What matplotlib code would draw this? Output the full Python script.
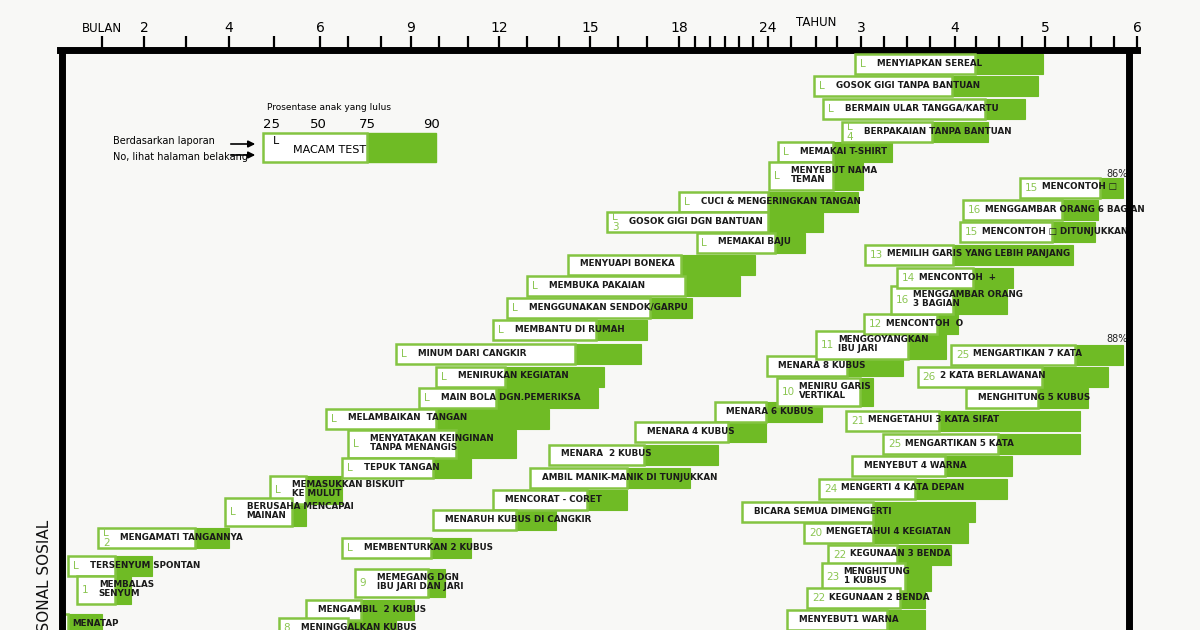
import numpy as np
import matplotlib
matplotlib.use("Agg")
import matplotlib.pyplot as plt

# ---------------- data (ages in months) ----------------
labels = [
    "MENYIAPKAN SEREAL", "GOSOK GIGI TANPA BANTUAN", "BERMAIN ULAR TANGGA/KARTU",
    "BERPAKAIAN TANPA BANTUAN", "MEMAKAI T-SHIRT", "MENYEBUT NAMA\nTEMAN",
    "CUCI & MENGERINGKAN TANGAN", "GOSOK GIGI DGN BANTUAN", "MEMAKAI BAJU",
    "MENYUAPI BONEKA", "MEMBUKA PAKAIAN", "MENGGUNAKAN SENDOK/GARPU",
    "MEMBANTU DI RUMAH", "MINUM DARI CANGKIR", "MENIRUKAN KEGIATAN",
    "MAIN BOLA DGN.PEMERIKSA", "MELAMBAIKAN  TANGAN", "MENYATAKAN KEINGINAN\nTANPA MENANGIS",
    "TEPUK TANGAN", "MEMASUKKAN BISKUIT\nKE MULUT", "BERUSAHA MENCAPAI\nMAINAN",
    "MENGAMATI TANGANNYA", "TERSENYUM SPONTAN", "MEMBALAS\nSENYUM", "MENATAP",
    "MENARA 8 KUBUS", "MENGGOYANGKAN\nIBU JARI", "MENCONTOH  O", "MENGGAMBAR ORANG\n3 BAGIAN",
    "MENCONTOH  +", "MEMILIH GARIS YANG LEBIH PANJANG", "MENCONTOH \u25a1 DITUNJUKKAN",
    "MENGGAMBAR ORANG 6 BAGIAN", "MENCONTOH \u25a1", "MENIRU GARIS\nVERTIKAL",
    "MENARA 6 KUBUS", "MENARA 4 KUBUS", "MENARA  2 KUBUS", "AMBIL MANIK-MANIK DI TUNJUKKAN",
    "MENCORAT - CORET", "MENARUH KUBUS DI CANGKIR", "MEMBENTURKAN 2 KUBUS",
    "MEMEGANG DGN\nIBU JARI DAN JARI", "MENGAMBIL  2 KUBUS", "MENINGGALKAN KUBUS",
    "MENGARTIKAN 7 KATA", "2 KATA BERLAWANAN", "MENGHITUNG 5 KUBUS",
    "MENGETAHUI 3 KATA SIFAT", "MENGARTIKAN 5 KATA", "MENYEBUT 4 WARNA",
    "MENGERTI 4 KATA DEPAN", "BICARA SEMUA DIMENGERTI", "MENGETAHUI 4 KEGIATAN",
    "KEGUNAAN 3 BENDA", "MENGHITUNG\n1 KUBUS", "KEGUNAAN 2 BENDA", "MENYEBUT1 WARNA",
]
notes = [
    "L", "L", "L", "L\n4", "L", "L", "L", "L\n3", "L", "", "L", "L", "L", "L", "L",
    "L", "L", "L", "L", "L", "L", "L\n2", "L", "1", "",
    "", "11", "12", "16", "14", "13", "15", "16", "15", "10",
    "", "", "", "", "", "", "L", "9", "", "8",
    "25", "26", "", "21", "25", "", "24", "", "20", "22", "23", "22", "",
]
p25 = [35.3, 29.8, 31.0, 33.6, 25.3, 24.1, 18.0, 15.6, 19.1, 14.3, 13.0, 12.3, 11.8,
       8.5, 9.9, 9.3, 6.2, 7.0, 6.8, 4.9, 3.9, 0.9, 0.2, 0.4, 0.0,
       23.9, 30.0, 36.4, 39.9, 40.7, 36.5, 48.7, 49.1, 56.7, 25.2,
       20.3, 16.6, 13.7, 13.1, 11.8, 9.8, 6.8, 7.2, 5.7, 5.1,
       47.5, 43.4, 49.6, 34.1, 38.9, 34.9, 30.4, 22.2, 28.6, 31.7, 30.8, 28.9, 26.5]
p75 = [50.9, 47.6, 52.2, 45.2, 32.4, 32.4, 24.0, 24.0, 24.9, 18.1, 18.4, 17.1, 15.2,
       14.5, 12.2, 11.9, 9.9, 10.6, 9.8, 5.7, 5.4, 3.2, 1.3, 1.3, 0.2,
       34.2, 42.1, 45.8, 47.8, 50.6, 47.8, 60.9, 62.2, 67.2, 35.9,
       23.9, 21.2, 16.9, 16.3, 14.9, 12.6, 9.7, 9.6, 7.4, 7.0,
       63.9, 59.6, 59.1, 46.1, 53.9, 46.8, 43.0, 37.6, 37.6, 40.7, 41.7, 41.1, 39.4]
p90 = [59.7, 59.1, 57.4, 52.6, 40.0, 36.3, 35.6, 31.0, 28.7, 23.1, 22.1, 18.8, 17.0,
       16.8, 15.5, 15.3, 13.7, 12.6, 11.1, 6.8, 5.7, 4.0, 2.2, 1.7, 1.0,
       41.5, 46.9, 48.4, 55.0, 55.8, 63.7, 66.5, 66.9, 70.2, 37.5,
       30.9, 23.9, 20.5, 18.7, 16.3, 13.9, 11.1, 10.2, 9.1, 8.5,
       70.2, 68.2, 65.6, 64.6, 64.6, 55.7, 55.0, 50.9, 49.8, 47.5, 45.1, 44.4, 44.4]

tick_ages = [1, 2, 4, 6, 9, 12, 15, 18, 24, 36, 48, 60, 72]
tick_labels = ["BULAN", "2", "4", "6", "9", "12", "15", "18", "24", "3", "4", "5", "6"]
minor_ages = [3, 5, 7, 8, 10, 11, 13, 14, 16, 17, 19, 20, 21, 22, 23, 27, 30, 33,
              39, 42, 45, 51, 54, 57, 63, 66, 69]

# ---------------- layout ----------------
row_y = [64, 86, 109, 132, 152, 176, 202, 222, 243, 265, 286, 308, 330, 354, 377, 398,
         419, 444, 468, 490, 512, 538, 566, 590, 624,
         366, 345, 324, 300, 278, 255, 232, 210, 188, 392,
         412, 432, 455, 478, 500, 520, 548, 583, 610, 628,
         355, 377, 398, 421, 444, 466, 489, 512, 533, 555, 577, 598, 620]

# piecewise scale of the printed age axis (month -> chart position)
SCALE_AGE = [0, 1, 2, 3, 4, 5, 6, 7, 8, 9, 10, 11, 12, 13, 14, 15, 16, 17, 18, 19, 20,
             21, 22, 23, 24, 27, 30, 33, 36, 39, 42, 45, 48, 51, 54, 57, 60, 63, 66, 69, 72]
SCALE_POS = [60, 102, 144, 186, 229, 274, 320, 348, 381, 411, 439, 468, 499, 527, 559,
             590, 618, 647, 679, 695, 710, 725, 739, 753, 768, 791, 816, 837, 861, 884,
             907, 930, 955, 976, 999, 1022, 1045, 1068, 1091, 1114, 1137]
SA = np.array(SCALE_AGE, float)
SP = np.array(SCALE_POS, float)


def fwd(x):
    return np.interp(np.asarray(x, float), SA, SP)


def inv(p):
    return np.interp(np.asarray(p, float), SP, SA)


GREEN = "#6fbb25"
EDGE = "#84c441"
NOTE = "#8cc653"
BG = "#f8f8f6"
FONT = ["Liberation Sans Narrow", "DejaVu Sans"]

fig = plt.figure(figsize=(12, 6.3), dpi=100, facecolor=BG)
ax = fig.add_axes([60 / 1200, 0, (1137 - 60) / 1200, (630 - 50) / 630])
ax.set_facecolor("none")
ax.set_xscale("function", functions=(fwd, inv))
ax.set_xlim(0, 72)
ax.set_ylim(630, 50)

heights = [28 if "\n" in l else 20 for l in labels]
a25 = np.array(p25); a75 = np.array(p75); a90 = np.array(p90)
ax.barh(row_y, a90 - a75, left=a75, height=heights, color=GREEN, edgecolor=GREEN,
        linewidth=0.8, zorder=2)
ax.barh(row_y, a75 - a25, left=a25, height=heights, color="white", edgecolor=EDGE,
        linewidth=1.8, zorder=3)

for lab, nt, x0, y, h in zip(labels, notes, p25, row_y, heights):
    off = 22 if nt else 12
    ax.annotate(lab, (x0, y), xytext=(off, 1), textcoords="offset pixels",
                ha="left", va="center", fontsize=6.3, fontweight="bold",
                family=FONT, color="#1a1a1a", zorder=5, linespacing=0.95)
    if nt:
        ax.annotate(nt, (x0, y), xytext=(5, 0), textcoords="offset pixels",
                    ha="left", va="center", fontsize=7.5, family=FONT,
                    color=NOTE, zorder=5, linespacing=0.9)

ax.text(68.0, 174, "86%", fontsize=7, family=FONT, color="#222", ha="left", va="center", zorder=6)
ax.text(68.0, 339, "88%", fontsize=7, family=FONT, color="#222", ha="left", va="center", zorder=6)

# top age axis
ax.xaxis.tick_top()
ax.set_xticks(tick_ages)
ax.set_xticklabels(tick_labels, fontsize=10, family=FONT)
for t in ax.get_xticklabels()[:1]:
    t.set_fontsize(8.5)
ax.set_xticks(minor_ages, minor=True)
ax.tick_params(axis="x", which="both", direction="out", length=10, width=1.6,
               color="black", pad=1)
ax.tick_params(axis="y", left=False, labelleft=False)
for s in ["left", "right", "bottom"]:
    ax.spines[s].set_visible(False)
ax.spines["top"].set_linewidth(5)
ax.text(30, 23, "TAHUN", fontsize=8.5, family=FONT, ha="center", va="center", clip_on=False)

# overlay for frame and key (figure pixel coords)
ov = fig.add_axes([0, 0, 1, 1], zorder=10)
ov.set_xlim(0, 1200)
ov.set_ylim(630, 0)
ov.axis("off")
ov.patch.set_alpha(0)
ov.plot([62, 62], [48, 630], color="black", lw=5, solid_capstyle="butt")
ov.plot([1129, 1129], [48, 630], color="black", lw=5, solid_capstyle="butt")
ov.text(45, 520, "PERSONAL SOSIAL", rotation=90, ha="center", va="top",
        fontsize=11, family=FONT, color="#111")

# key
ov.add_patch(plt.Rectangle((367, 133), 69, 29, color=GREEN, zorder=2))
ov.add_patch(plt.Rectangle((263, 133), 104, 29, facecolor="white", edgecolor=EDGE, lw=1.8, zorder=3))
for t, x in zip(["25", "50", "75", "90"], [271, 318, 367, 432]):
    ov.text(x, 124, t, fontsize=9.5, family=FONT, ha="center", va="center")
ov.text(267, 108, "Prosentase anak yang lulus", fontsize=6.5, family=FONT, ha="left", va="center")
ov.text(273, 141, "L", fontsize=8, family=FONT, ha="left", va="center", zorder=4)
ov.text(330, 150, "MACAM TEST", fontsize=8, family=FONT, ha="center", va="center", zorder=4)
ov.text(113, 141, "Berdasarkan laporan", fontsize=7, family=FONT, ha="left", va="center")
ov.text(113, 157, "No, lihat halaman belakang", fontsize=7, family=FONT, ha="left", va="center")
for yy in (144, 155):
    ov.annotate("", xy=(258, yy), xytext=(228, yy),
                arrowprops=dict(arrowstyle="-|>", color="black", lw=1.2))

fig.savefig("out.png", dpi=100, facecolor=BG)
